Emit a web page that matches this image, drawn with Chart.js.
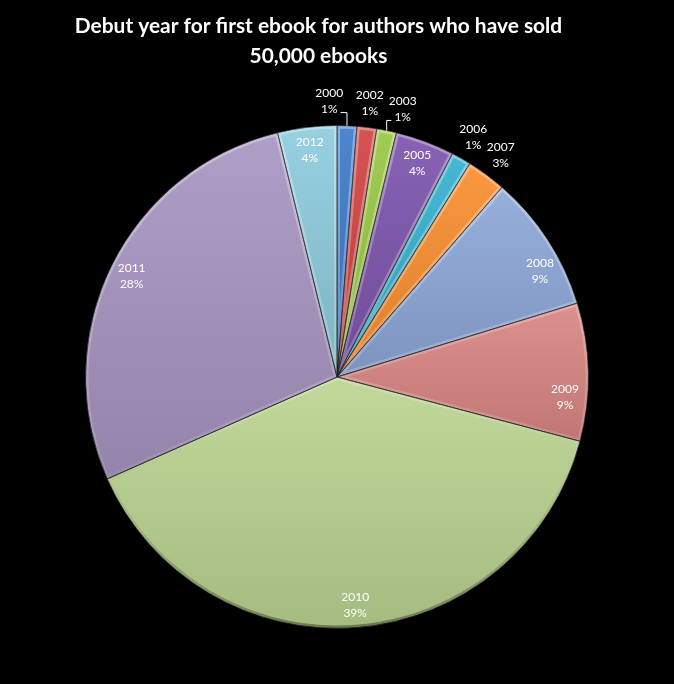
<!DOCTYPE html>
<html>
<head>
<meta charset="utf-8">
<title>Debut year for first ebook</title>
<script src="https://cdn.jsdelivr.net/npm/chart.js@4.4.0/dist/chart.umd.min.js"></script>
<style>
  html, body { margin: 0; padding: 0; background: #000; }
  .wrap { position: relative; width: 674px; height: 684px; }
</style>
</head>
<body>
<div class="wrap"><canvas id="debutPie"></canvas></div>
<script>
// authors per debut year (79 authors in all)
const years = ['2000', '2002', '2003', '2005', '2006', '2007', '2008', '2009', '2010', '2011', '2012'];
const authors = [1, 1, 1, 3, 1, 2, 7, 7, 31, 22, 3];
const sliceColors = ['#3F7CCB', '#D24444', '#9BC846', '#7E55AE', '#37B1CF', '#FA8F30',
                     '#8EA8D9', '#DA8784', '#BCD591', '#A896C2', '#8ECCDE'];
const titleLines = ['Debut year for first ebook for authors who have sold', '50,000 ebooks'];

// excel pushed a few labels off the slice middle (degrees, clockwise)
const labelNudge = { '2000': -3.9, '2003': 2.4, '2008': 5.5, '2009': 6.2 };
const leaderYears = ['2000', '2003'];

const total = authors.reduce((a, b) => a + b, 0);

function shade(hex, amt) {
  const n = parseInt(hex.slice(1), 16);
  let rgb = [(n >> 16) & 255, (n >> 8) & 255, n & 255];
  rgb = rgb.map(c => amt >= 0 ? c + (255 - c) * amt : c * (1 + amt));
  return 'rgb(' + rgb.map(c => Math.round(c)).join(',') + ')';
}

// vertical gradient over each slice's own bounding box
function sliceFill(context) {
  const chart = context.chart;
  const area = chart.chartArea;
  const i = context.dataIndex;
  const base = sliceColors[i];
  if (!area || i === undefined) return base;
  const cy = (area.top + area.bottom) / 2;
  const r = Math.min(area.width, area.height) / 2;
  let before = 0;
  for (let k = 0; k < i; k++) before += authors[k];
  const a0 = before / total * 2 * Math.PI - Math.PI / 2;
  const a1 = (before + authors[i]) / total * 2 * Math.PI - Math.PI / 2;
  const ys = [cy, cy + r * Math.sin(a0), cy + r * Math.sin(a1)];
  [-Math.PI / 2, Math.PI / 2, 3 * Math.PI / 2].forEach(a => {
    if (a > a0 && a < a1) ys.push(cy + r * Math.sin(a));
  });
  const top = Math.min(...ys), bottom = Math.max(...ys);
  const g = chart.ctx.createLinearGradient(0, top, 0, bottom + 0.01);
  g.addColorStop(0, shade(base, 0.08));
  g.addColorStop(1, shade(base, -0.12));
  return g;
}

const pieDecor = {
  id: 'pieDecor',
  afterDatasetsDraw(chart) {
    const ctx = chart.ctx;
    const area = chart.chartArea;
    // bevel: light on the upper edges, shadow toward the bottom
    const rim = ctx.createLinearGradient(0, area.top, 0, area.bottom);
    rim.addColorStop(0, 'rgba(255,255,255,0.35)');
    rim.addColorStop(0.55, 'rgba(255,255,255,0.18)');
    rim.addColorStop(1, 'rgba(0,0,0,0.35)');
    chart.getDatasetMeta(0).data.forEach(arc => {
      const p = arc.getProps(['x', 'y', 'startAngle', 'endAngle', 'outerRadius'], true);
      ctx.save();
      ctx.beginPath();
      ctx.moveTo(p.x, p.y);
      ctx.arc(p.x, p.y, p.outerRadius, p.startAngle, p.endAngle);
      ctx.closePath();
      ctx.clip();
      ctx.lineWidth = 6;
      ctx.strokeStyle = rim;
      ctx.stroke();
      ctx.lineWidth = 1;
      ctx.strokeStyle = 'rgba(0,0,0,0.5)';
      ctx.stroke();
      ctx.restore();
    });
  },
  afterDraw(chart) {
    const ctx = chart.ctx;
    ctx.save();
    ctx.fillStyle = '#fff';
    ctx.strokeStyle = '#fff';
    ctx.textAlign = 'center';

    // title, sized to the original width
    ctx.font = 'bold 20px Lato';
    const size = 20 * 487 / ctx.measureText(titleLines[0]).width;
    ctx.font = 'bold ' + size.toFixed(1) + 'px Lato';
    ctx.textBaseline = 'alphabetic';
    ctx.fillText(titleLines[0], 318.5, 33);
    ctx.fillText(titleLines[1], 318.5, 63);

    // data labels
    ctx.font = '12px Lato';
    ctx.textBaseline = 'middle';
    ctx.lineWidth = 1;
    chart.getDatasetMeta(0).data.forEach((arc, i) => {
      const p = arc.getProps(['x', 'y', 'startAngle', 'endAngle', 'outerRadius'], true);
      const year = years[i];
      const pct = Math.round(authors[i] / total * 100) + '%';
      const mid = (p.startAngle + p.endAngle) / 2;
      const inside = authors[i] / total >= 0.035;
      const r = inside ? p.outerRadius * 0.91 : p.outerRadius + 24;
      const a = mid + (labelNudge[year] || 0) * Math.PI / 180;
      const lx = p.x + r * Math.cos(a), ly = p.y + r * Math.sin(a);
      ctx.fillText(year, lx, ly - 8);
      ctx.fillText(pct, lx, ly + 8);
      if (leaderYears.includes(year)) {
        const ex = p.x + p.outerRadius * Math.cos(mid);
        const ey = p.y + p.outerRadius * Math.sin(mid);
        const hw = ctx.measureText(pct).width / 2 + 3;
        const sx = ex > lx ? lx + hw : lx - hw;
        const hy = ly + 11;
        ctx.beginPath();
        ctx.moveTo(sx, hy);
        ctx.lineTo(ex, hy);
        ctx.lineTo(ex, ey);
        ctx.stroke();
      }
    });
    ctx.restore();
  }
};

new Chart(document.getElementById('debutPie'), {
  type: 'pie',
  data: {
    labels: years,
    datasets: [{
      data: authors,
      backgroundColor: sliceFill,
      borderColor: 'rgba(0,0,0,0.5)',
      borderWidth: 1,
      hoverOffset: 0
    }]
  },
  options: {
    responsive: true,
    maintainAspectRatio: false,
    animation: false,
    layout: { padding: { top: 125, bottom: 55, left: 85, right: 85 } },
    plugins: {
      legend: { display: false },
      title: { display: false },
      tooltip: { enabled: false }
    }
  },
  plugins: [pieDecor]
});
</script>
</body>
</html>
